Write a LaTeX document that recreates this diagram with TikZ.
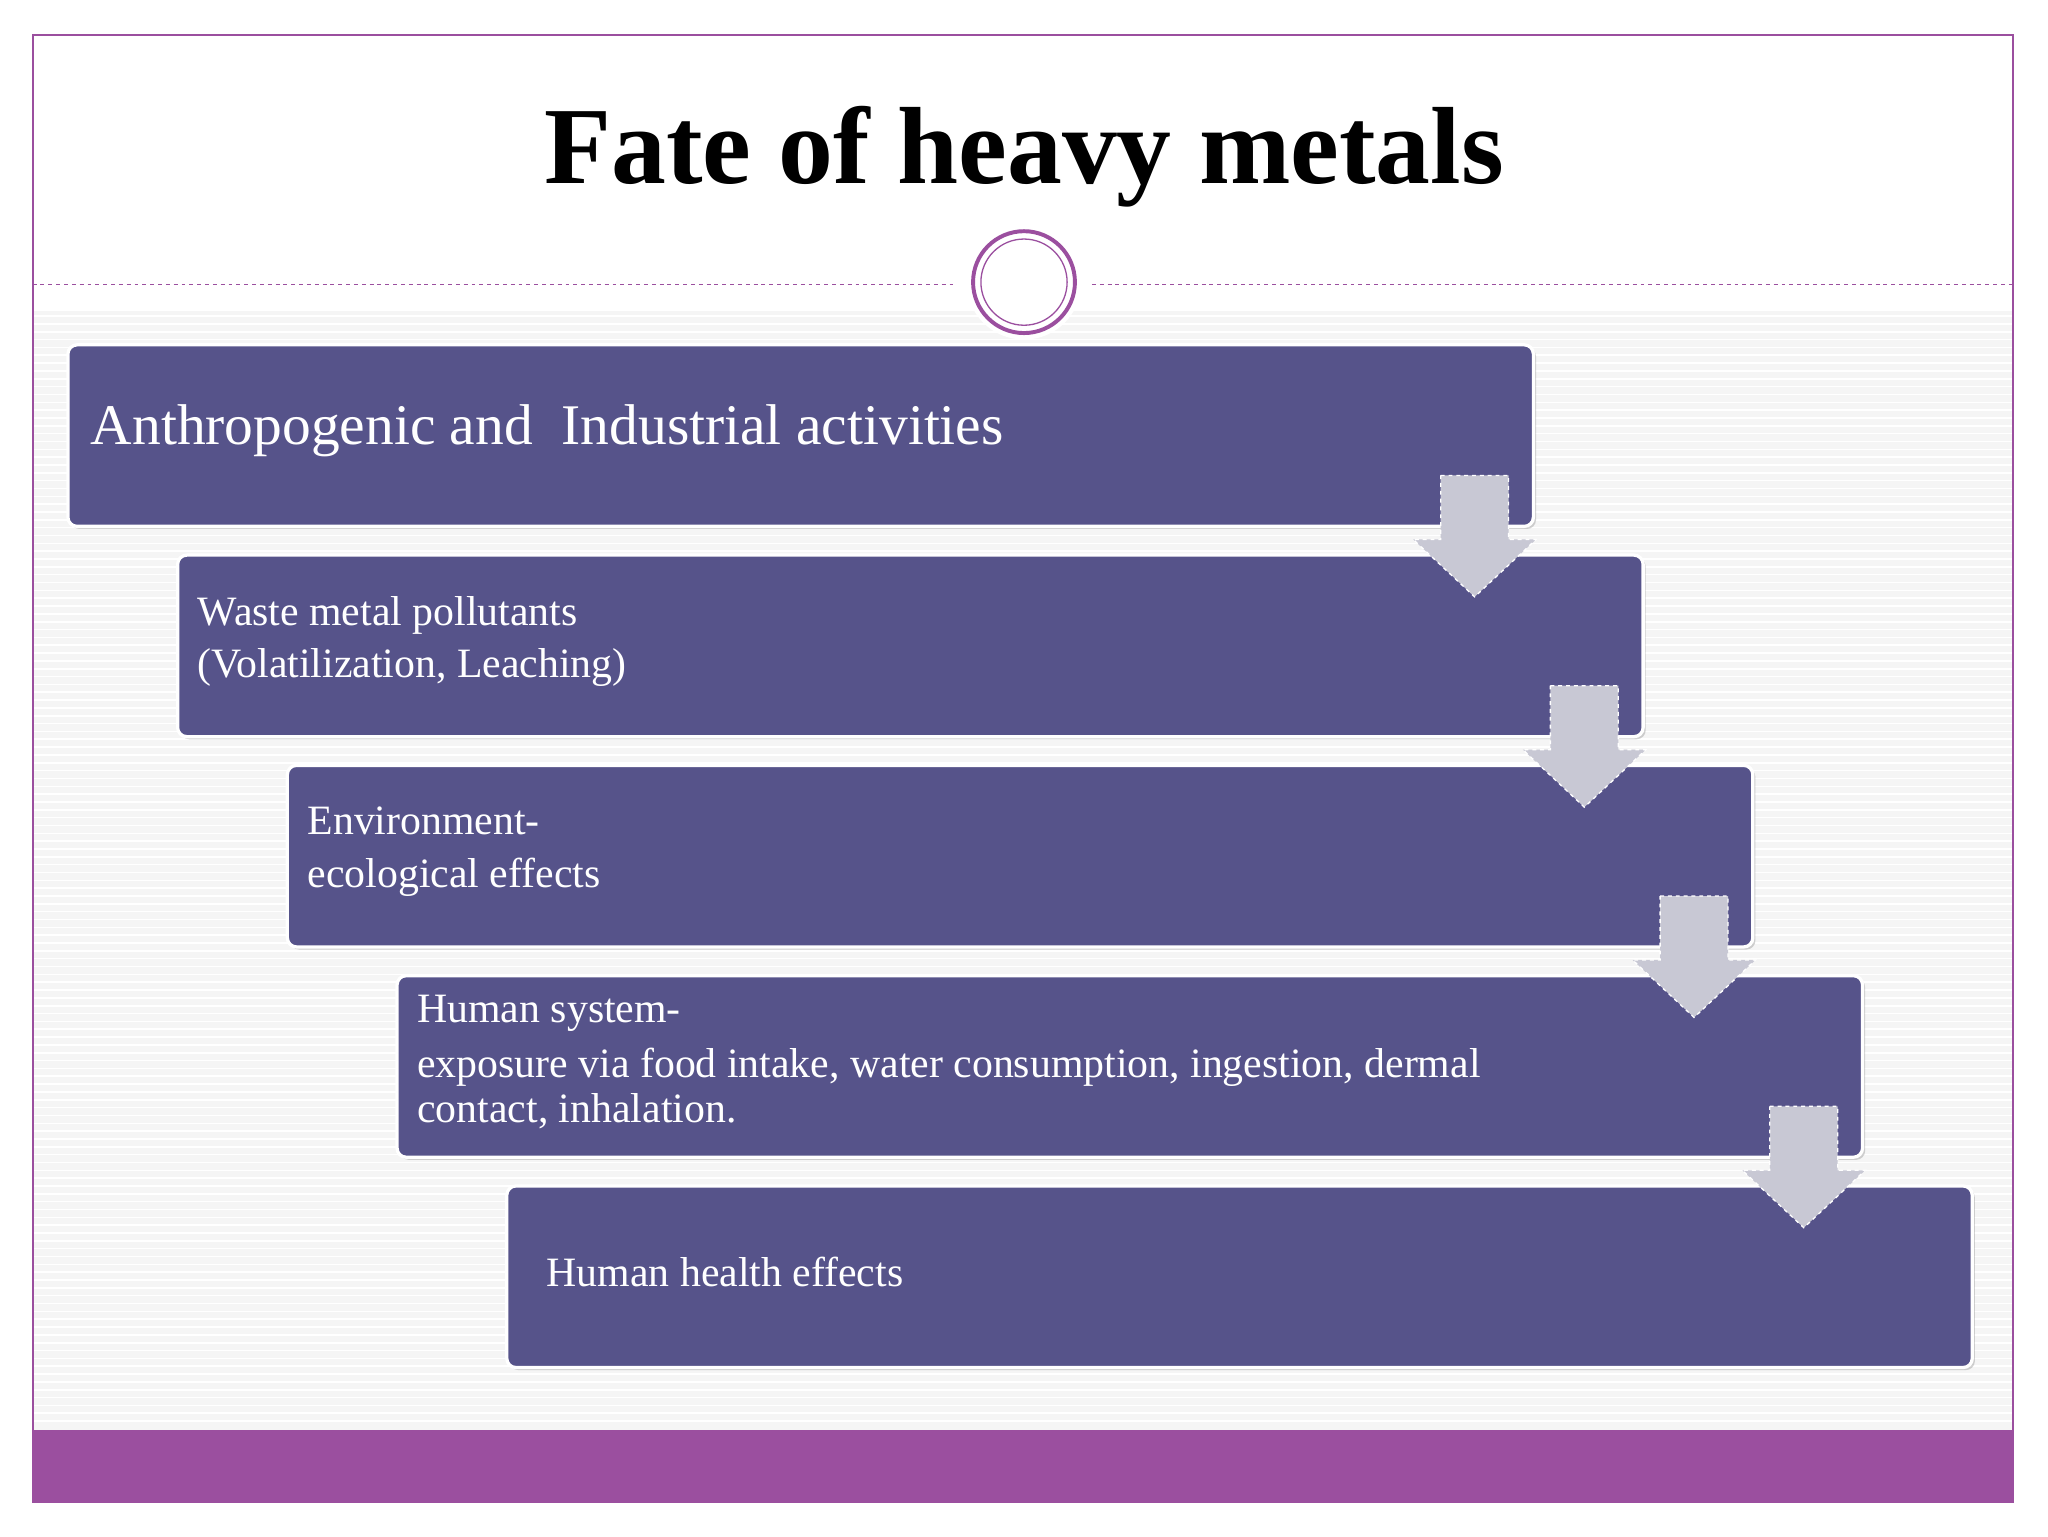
\documentclass[tikz,border=0pt]{standalone}
\usepackage{fontspec}
\setmainfont{Liberation Serif}
\usetikzlibrary{shadows}
\definecolor{boxc}{RGB}{86,83,138}
\definecolor{purp}{RGB}{155,79,159}
\definecolor{arr}{RGB}{200,200,212}
\tikzset{x=1pt,y=-1pt,
 stepbox/.style={fill=boxc,draw=white,line width=2.5pt,rounded corners=7pt,drop shadow={opacity=0.35,shadow xshift=2pt,shadow yshift=-2pt}},
 btext/.style={text=white,anchor=west,align=left,font=\fontsize{32}{40}\selectfont},
 downarr/.style={fill=arr,draw=white,dashed,line width=1pt}}
\newcommand{\mybox}[3]{%
 \pgfmathsetmacro{\xa}{52+84*#1}\pgfmathsetmacro{\ya}{264+161*#1}
 \path[stepbox] (\xa,\ya) rectangle ++(1122,139);
 \node[coordinate] (#2) at (\xa,\ya) {};}
\begin{document}
\begin{tikzpicture}
\useasboundingbox (0,0) rectangle (1568,1176);
\fill[white] (0,0) rectangle (1568,1176);
\fill[gray!8] (25,238) rectangle (1541,1095);
\foreach \y in {242,248,...,1092} \draw[white,line width=1.2pt] (25,\y) -- (1541,\y);
\fill[purp] (25,1095) rectangle (1541,1150);
\draw[purp,line width=1.5pt] (25,27) rectangle (1541,1150);
\node[font=\bfseries\fontsize{84}{90}\selectfont] (title) at (784,120) {Fate of heavy metals};
\draw[purp,dashed,line width=1pt] (25,218) -- (730,218) (836,218) -- (1541,218);
\fill[white] (784,216) circle (44);
\draw[purp,line width=3pt] (784,216) circle (39);
\draw[purp,line width=1pt] (784,216) circle (33);
\mybox{0}{b1}{}
\mybox{1}{b2}{}
\mybox{2}{b3}{}
\mybox{3}{b4}{}
\mybox{4}{b5}{}
\foreach \i in {0,...,3}{
 \pgfmathsetmacro{\cx}{1129+84*\i}\pgfmathsetmacro{\ty}{364+161*\i}
 \draw[downarr] (\cx-26,\ty) -- (\cx+26,\ty) -- (\cx+26,\ty+49) -- (\cx+47,\ty+49) -- (\cx,\ty+93) -- (\cx-47,\ty+49) -- (\cx-26,\ty+49) -- cycle;}
\node[btext,font=\fontsize{44}{50}\selectfont] (t1) at (66,330) {Anthropogenic and\ \ Industrial activities};
\node[btext] (t2) at (148,491) {Waste metal pollutants\\(Volatilization, Leaching)};
\node[btext] (t3) at (232,652) {Environment-\\ecological effects};
\node[btext,font=\fontsize{32}{34}\selectfont] (t4) at (316,813) {Human system-\\[8pt]exposure via food intake, water consumption, ingestion, dermal\\contact, inhalation.};
\node[btext] (t5) at (415,974) {Human health effects};
\end{tikzpicture}
\end{document}
